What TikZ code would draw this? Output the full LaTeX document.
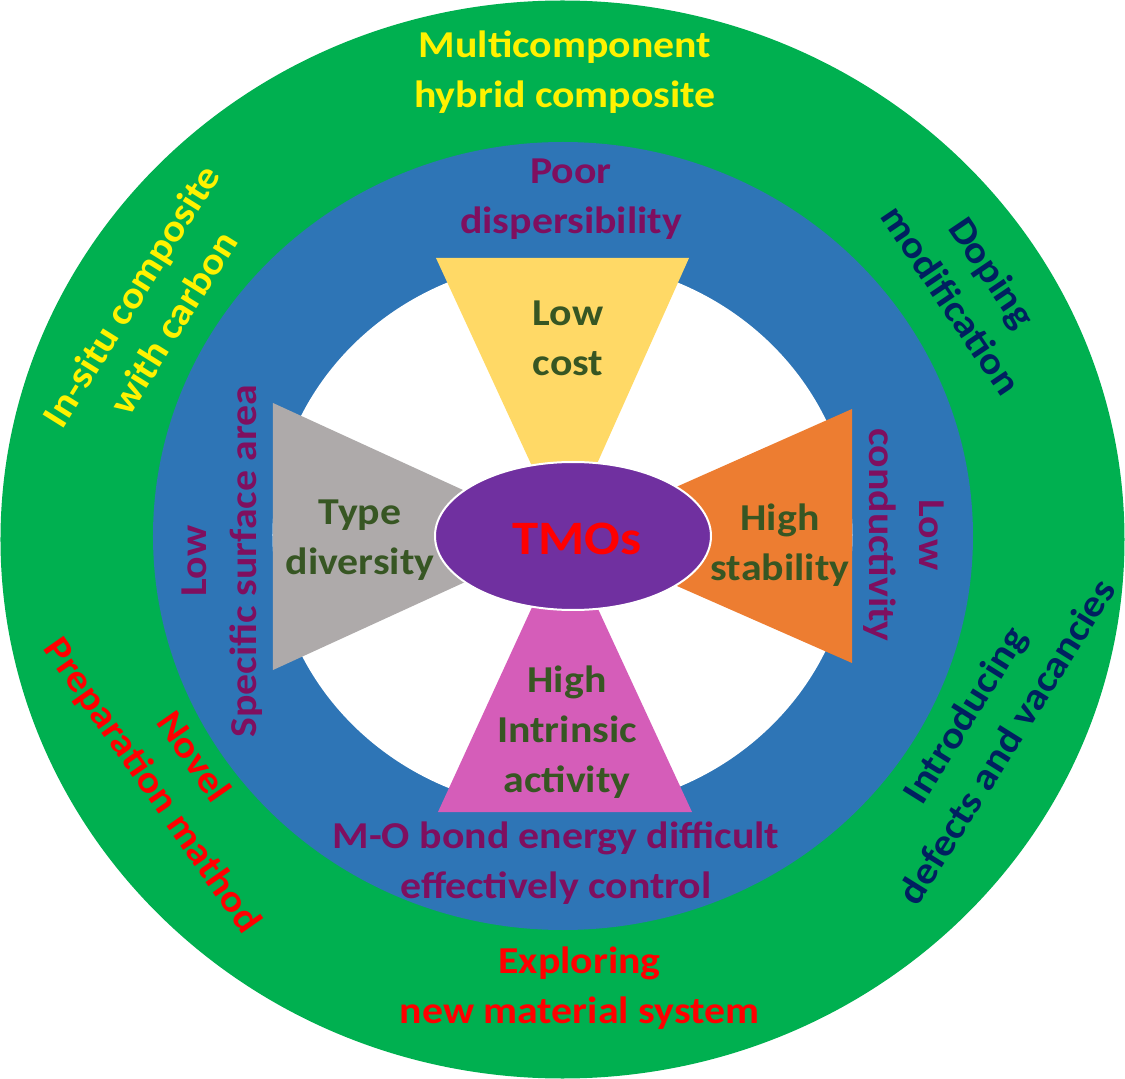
\documentclass[tikz,border=0pt]{standalone}
\usepackage{fontspec}
\setmainfont{Carlito}[FakeStretch=1.1]

\definecolor{anello}{HTML}{00B050}
\definecolor{fascia}{HTML}{2E75B6}
\definecolor{oro}{HTML}{FFD966}
\definecolor{grigio}{HTML}{AEAAAA}
\definecolor{arancio}{HTML}{ED7D31}
\definecolor{rosa}{HTML}{D55DB9}
\definecolor{viola}{HTML}{7030A0}
\definecolor{prugna}{HTML}{7F0F5F}
\definecolor{verdescuro}{HTML}{375623}
\definecolor{notte}{HTML}{002060}

\begin{document}
\begin{tikzpicture}[x=1pt, y=1pt, font=\bfseries\fontsize{38}{50}\selectfont,
    testo/.style={align=center, inner sep=0pt}]

        \useasboundingbox (-562.5,-539.5) rectangle (562.5,539.5);

        % 1. Anelli di fondo
        \fill[anello] (0,0) ellipse [x radius=562, y radius=539];
        \fill[fascia] (0.5,3.5) ellipse [x radius=410, y radius=394];
        \fill[white] (0,4.5) ellipse [x radius=290, y radius=275];

        % 2. Triangoli verso il centro
        \fill[oro] (-126.5,281.5) -- (126.5,281.5) -- (2,3) -- cycle;
        \fill[rosa] (-124.5,-272.5) -- (129.5,-272.5) -- (2,3) -- cycle;
        \fill[grigio] (-289.5,136.5) -- (-289.5,-130.5) -- (2,3) -- cycle;
        \fill[arancio] (289.5,130.5) -- (289.5,-123.5) -- (2,3) -- cycle;

        % 3. Ellisse centrale
        \filldraw[fill=viola, draw=white, line width=2] (10.5,3.5) ellipse [x radius=138, y radius=74];
        \node[testo, red, anchor=base, font=\bfseries\fontsize{48}{58}\selectfont] (tmo) at (14.5,-15.5) {TMOs};

        % 4. Testi nei triangoli
        \node[testo, verdescuro] (costo) at (5.5,201.5) {Low\\cost};
        \node[testo, verdescuro] (tipi) at (-202.5,-0.5) {Type\\diversity};
        \node[testo, verdescuro] (stab) at (217.5,-5.5) {High\\stability};
        \node[testo, verdescuro] (attiv) at (4.5,-192.5) {High\\Intrinsic\\activity};

        % 5. Testi sulla fascia blu
        \node[testo, prugna] (disp) at (8.5,340.5) {Poor\\dispersibility};
        \node[testo, prugna] (legame) at (-6.5,-323.5) {M-O bond energy difficult\\effectively control};
        \node[testo, prugna, rotate=90] (area) at (-340.5,-21.5) {Low\\Specific surface area};
        \node[testo, prugna, rotate=-90] (cond) at (341.5,4.5) {Low\\conductivity};

        % 6. Testi sull'anello verde
        \node[testo, yellow] (multi) at (2.5,467.5) {Multicomponent\\hybrid composite};
        \node[testo, red] (nuovi) at (17,-448.5) {Exploring\\new material system};
        \node[testo, yellow, rotate=58] (carbonio) at (-410.5,230.5) {In-situ composite\\with carbon};
        \node[testo, notte, rotate=-56] (drog) at (409.5,253.5) {Doping\\modification};
        \node[testo, notte, rotate=58] (difetti) at (422.5,-188.5) {Introducing\\defects and vacancies};
        \node[testo, red, rotate=-55] (prep) at (-390.5,-232.5) {Novel\\Preparation mathod};

    \end{tikzpicture}
\end{document}
